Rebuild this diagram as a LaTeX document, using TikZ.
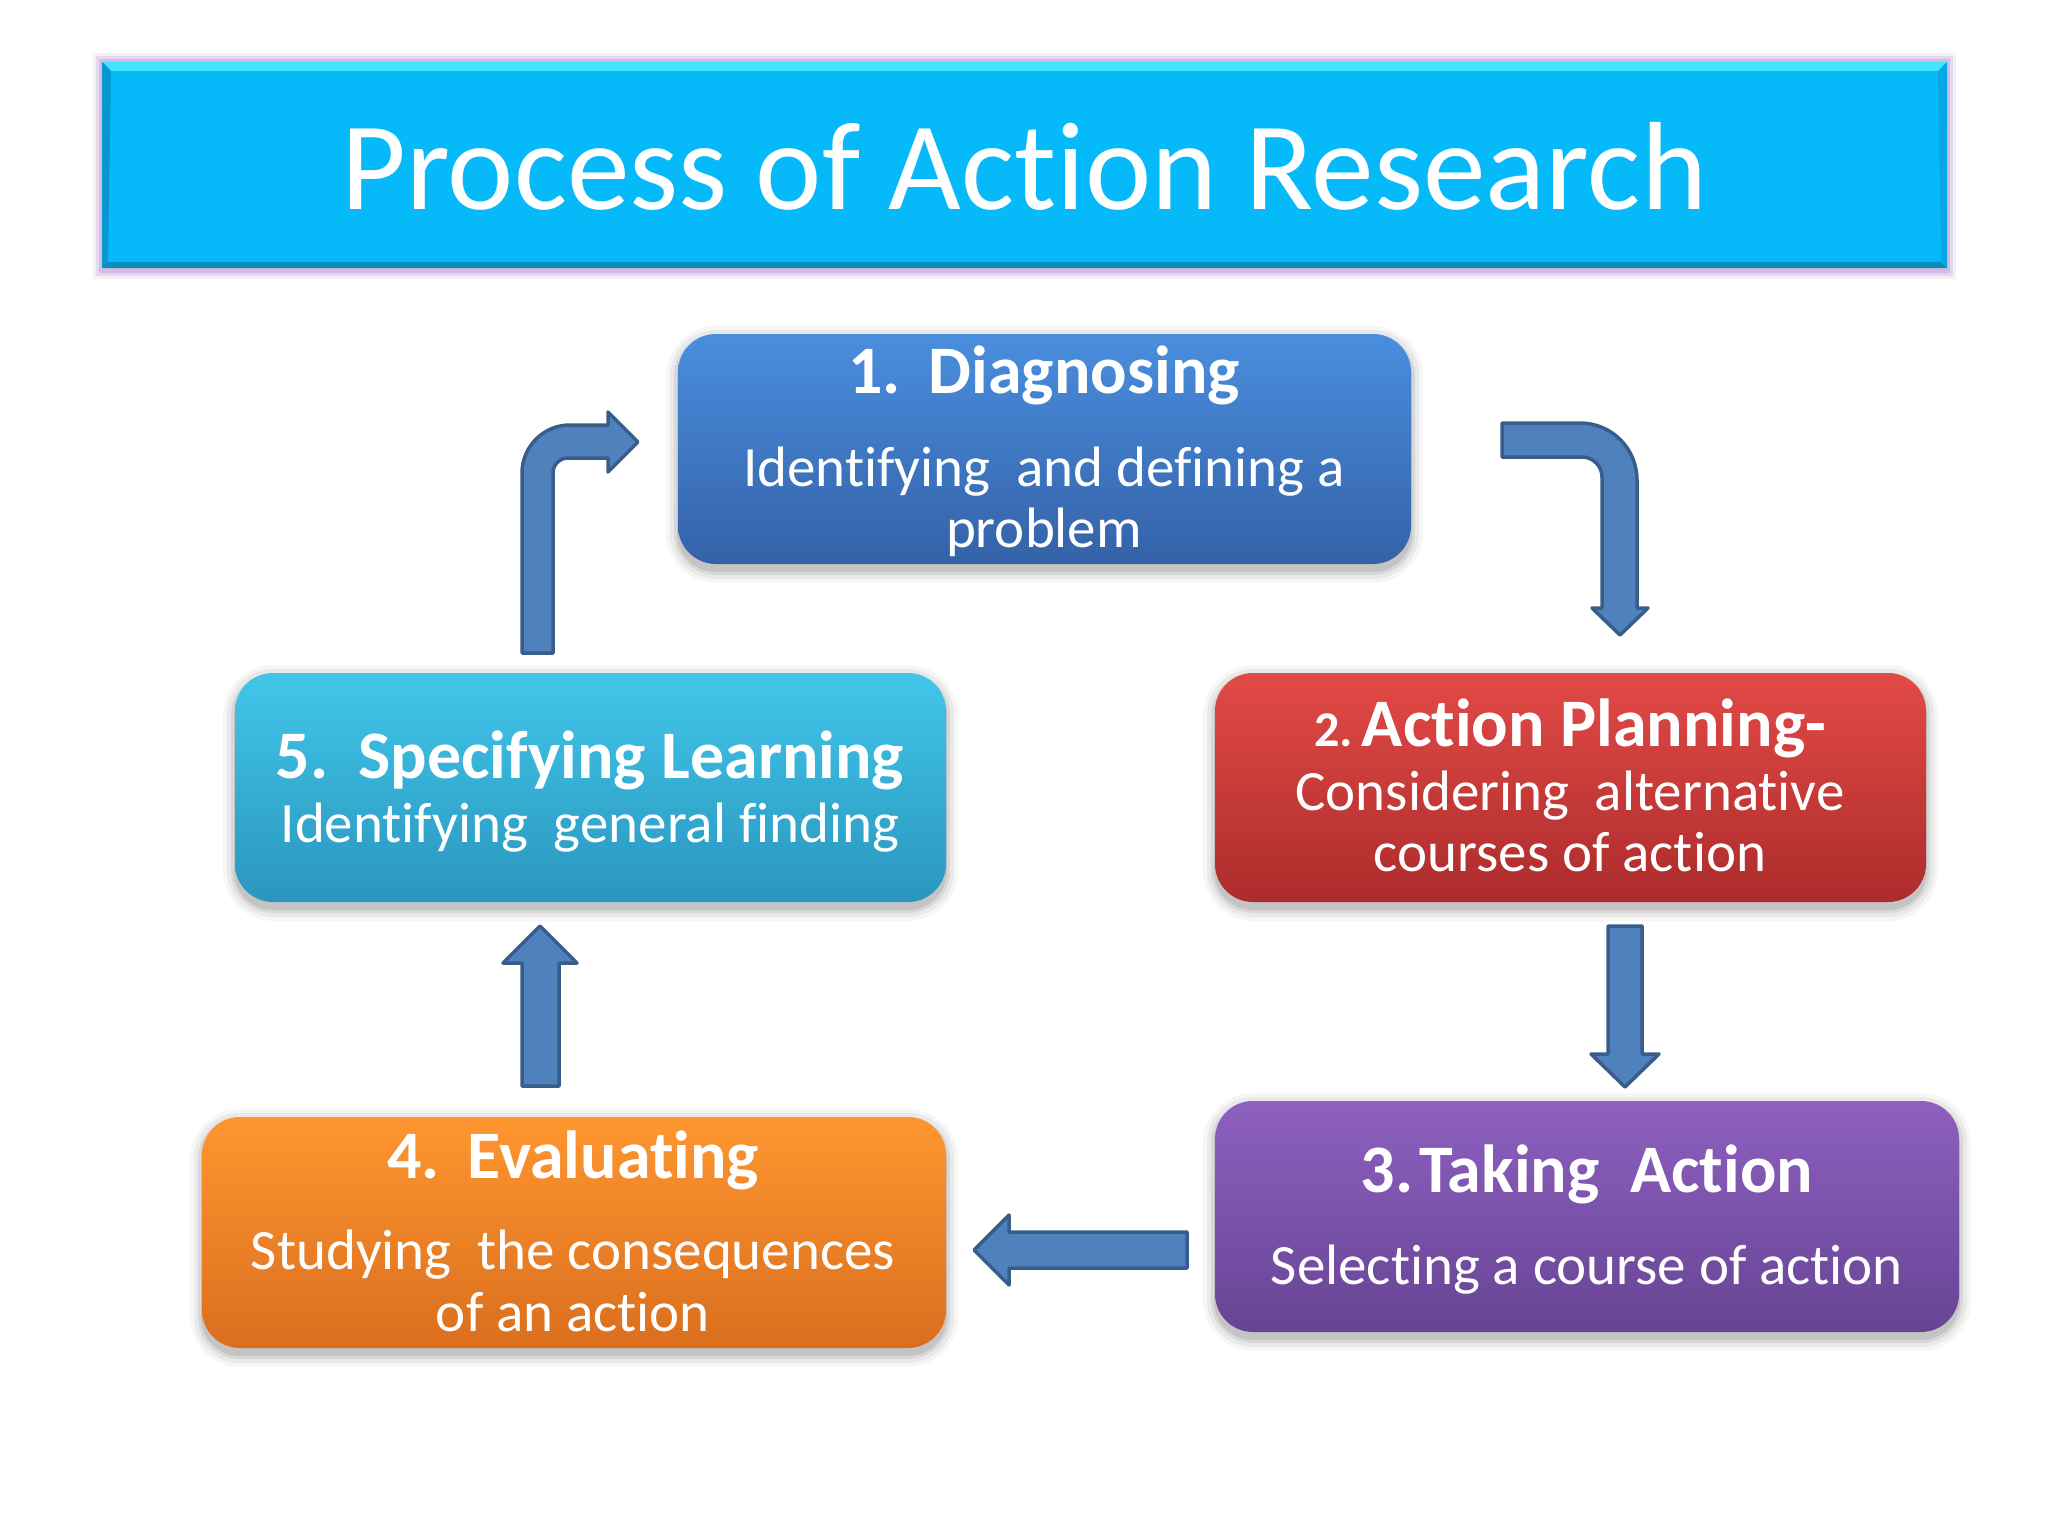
\documentclass[tikz,border=0pt]{standalone}
\usepackage{fontspec}
\setmainfont{Carlito}[Ligatures={NoCommon,NoContextual},Contextuals=NoAlternate]
\definecolor{titlefill}{RGB}{6,185,249}
\definecolor{titletop}{RGB}{70,228,255}
\definecolor{titlebot}{RGB}{8,140,190}
\definecolor{titleside}{RGB}{5,168,228}
\definecolor{glow}{RGB}{185,150,210}
\definecolor{bluetop}{RGB}{74,142,222}
\definecolor{bluebot}{RGB}{52,98,168}
\definecolor{redtop}{RGB}{226,74,70}
\definecolor{redbot}{RGB}{172,44,44}
\definecolor{purtop}{RGB}{142,96,192}
\definecolor{purbot}{RGB}{102,68,148}
\definecolor{orgtop}{RGB}{254,150,48}
\definecolor{orgbot}{RGB}{218,110,30}
\definecolor{cyntop}{RGB}{66,198,234}
\definecolor{cynbot}{RGB}{42,150,190}
\definecolor{arrfill}{RGB}{79,129,189}
\definecolor{arrline}{RGB}{56,93,138}
\tikzset{
  stepbox/.style={rectangle, rounded corners=38pt, inner sep=0pt, outer sep=0pt, shading=axis, shading angle=0},
  hd/.style={font=\fontsize{68}{72}\selectfont\bfseries, text=white, inner sep=0pt, anchor=base},
  sub/.style={font=\fontsize{57}{62}\selectfont, text=white, inner sep=0pt, anchor=base},
  blockarrow/.style={fill=arrfill, draw=arrline, line width=3.5pt, line join=round},
}
\newcommand\myshadow[4]{%
  \foreach \e/\o/\r in {12/0.035/50,8/0.05/46,4/0.07/42,1/0.09/39}{%
    \fill[black, opacity=\o, rounded corners=\r pt] (#1-\e,#2+4-\e) rectangle (#3+\e,#4+7+\e);
  }%
}
\begin{document}
\begin{tikzpicture}[x=1pt,y=-1pt]
\useasboundingbox (0,0) rectangle (2048,1536);
\fill[white] (0,0) rectangle (2048,1536);

% title
\foreach \e/\o in {9/0.15,6/0.25,3/0.4}{
  \fill[glow, opacity=\o] (102-\e,62-\e) rectangle (1947+\e,268+\e+2);
}
\node[rectangle, fill=titlefill, inner sep=0pt, outer sep=0pt, minimum width=1845pt, minimum height=206pt] (title) at (1024.5,165) {};
\fill[titletop] (102,62) -- (1947,62) -- (1938,71) -- (111,71) -- cycle;
\fill[titlebot] (102,268) -- (1947,268) -- (1941,262) -- (108,262) -- cycle;
\fill[titleside] (1947,62) -- (1947,268) -- (1941,262) -- (1938,71) -- cycle;
\fill[titleside!90!black] (102,62) -- (102,268) -- (108,262) -- (111,71) -- cycle;
\node[font=\fontsize{125.5}{130}\selectfont, text=white, inner sep=0pt, anchor=base] (titletext) at (1024,209) {Process of Action Research};

% shadows
\myshadow{678}{334}{1411}{564}
\myshadow{1215}{673}{1926}{902}
\myshadow{1215}{1101}{1959}{1332}
\myshadow{202}{1117}{946}{1348}
\myshadow{235}{673}{946}{902}

% boxes
\node[stepbox, top color=bluetop, bottom color=bluebot, minimum width=733pt, minimum height=230pt] (diag) at (1044.5,449) {};
\node[stepbox, top color=redtop, bottom color=redbot, minimum width=711pt, minimum height=229pt] (plan) at (1570.5,787.5) {};
\node[stepbox, top color=purtop, bottom color=purbot, minimum width=744pt, minimum height=231pt] (take) at (1587,1216.5) {};
\node[stepbox, top color=orgtop, bottom color=orgbot, minimum width=744pt, minimum height=231pt] (eval) at (574,1232.5) {};
\node[stepbox, top color=cyntop, bottom color=cynbot, minimum width=711pt, minimum height=229pt] (spec) at (590.5,787.5) {};

% texts
\node[hd] (diag-h) at (1044,393) {1.\hspace{28pt}Diagnosing};
\node[sub] (diag-s1) at (1044,486) {Identifying~ and defining a};
\node[sub] (diag-s2) at (1044,547) {problem};

\node[hd] (plan-h) at (1570,746) {{\fontsize{50}{52}\selectfont 2.}\hspace{9pt}Action Planning-};
\node[sub] (plan-s1) at (1570,810) {Considering~ alternative};
\node[sub] (plan-s2) at (1570,871) {courses of action};

\node[hd] (take-h) at (1587,1192) {3.\hspace{6pt}Taking~ Action};
\node[sub] (take-s1) at (1587,1284) {Selecting a course of action};

\node[hd] (eval-h) at (573,1178) {4.\hspace{28pt}Evaluating};
\node[sub] (eval-s1) at (573,1269) {Studying~ the consequences};
\node[sub] (eval-s2) at (573,1331) {of an action};

\node[hd] (spec-h) at (590,778) {5.\hspace{30pt}Specifying Learning};
\node[sub] (spec-s1) at (590,842) {Identifying~ general finding};

% block arrows
% 5 -> 1 (bent up-right)
\draw[blockarrow] (522,653) -- (522,473) .. controls (522,446.5) and (543.5,425) .. (570,425)
  -- (608,425) -- (608,412) -- (638,442) -- (608,472) -- (608,458) -- (568,458)
  .. controls (559.7,458) and (553,464.7) .. (553,473) -- (553,653) -- cycle;
% 1 -> 2 (bent right-down)
\draw[blockarrow] (1502,423) -- (1580,423) .. controls (1611.5,423) and (1637,448.5) .. (1637,480)
  -- (1637,608) -- (1648,608) -- (1620,635) -- (1592,608) -- (1602,608) -- (1602,477)
  .. controls (1602,466) and (1593,457) .. (1582,457) -- (1502,457) -- cycle;
% 2 -> 3 (down)
\draw[blockarrow] (1608,926) -- (1642,926) -- (1642,1054) -- (1659,1054) -- (1625,1087) -- (1591,1054) -- (1608,1054) -- cycle;
% 3 -> 4 (left)
\draw[blockarrow] (1187,1232) -- (1187,1268) -- (1009,1268) -- (1009,1285) -- (974,1250) -- (1009,1215) -- (1009,1232) -- cycle;
% 4 -> 5 (up)
\draw[blockarrow] (522,1086) -- (522,963) -- (503,963) -- (540,926) -- (577,963) -- (559,963) -- (559,1086) -- cycle;
\end{tikzpicture}
\end{document}
